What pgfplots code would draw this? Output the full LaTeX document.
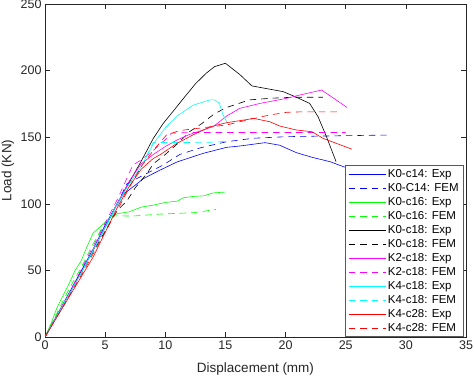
\documentclass[border=0pt]{standalone}
\usepackage{fontspec}
\setmainfont{Liberation Sans}
\usepackage{pgfplots}
\pgfplotsset{compat=1.18}
\definecolor{mb}{rgb}{0,0,1}
\definecolor{mg}{rgb}{0,1,0}
\definecolor{mk}{rgb}{0,0,0}
\definecolor{mm}{rgb}{1,0,1}
\definecolor{mc}{rgb}{0,1,1}
\definecolor{mr}{rgb}{1,0,0}
\begin{document}
\begin{tikzpicture}
\path[use as bounding box] (-45pt,-40pt) rectangle (429pt,337pt);
\begin{axis}[
  at={(0pt,0pt)}, anchor=south west,
  scale only axis, width=421pt, height=333pt,
  xmin=0, xmax=35, ymin=0, ymax=250,
  xtick={0,5,...,35}, ytick={0,50,...,250},
  tick align=inside, major tick length=5pt,
  axis line style={color=black!85, line width=0.5pt},
  tick style={color=black!85, line width=0.5pt},
  /pgf/number format/assume math mode=true,
  ticklabel style={font=\fontsize{12.5}{14}\selectfont, color=black!85},
  xlabel={Displacement (mm)}, ylabel={Load (KN)},
  label style={font=\fontsize{13.5}{15}\selectfont, color=black!85},
  xlabel style={at={(axis description cs:0.5,-0.096)}, anchor=center},
  ylabel style={at={(axis description cs:-0.088,0.5)}, anchor=center},
  legend cell align=left,
  legend style={at={(rel axis cs:0.995,0.0)}, anchor=south east,
    font=\fontsize{11.5}{14}\selectfont, draw=black!65, line width=0.6pt,
    fill=white, row sep=0.45pt, inner xsep=3pt, inner ysep=2pt},
  legend image code/.code={\draw[#1] (0cm,0cm) -- (37pt,0cm);},
  every axis plot/.append style={line width=0.6pt},
  dashes/.style={dash pattern=on 6.5pt off 5pt},
]
% K0-c14 Exp
\addplot[mb] coordinates {(0,0)(2,33)(4,66)(5,84)(6,100)(6.5,107)(7.5,114)(8.2,119)(9.5,125)(11,131.5)(13.2,138)(15.1,142.4)(16.2,143.4)(18.3,145.9)(19.5,144)(20.9,138.4)(22.2,134.9)(23.7,131.6)(24.8,127.9)(25.5,126)};
\addlegendentry{K0-c14: Exp}
% K0-C14 FEM
\addplot[mb,dashes] coordinates {(0,0)(3,48)(6,100)(6.8,115)(8.2,121.6)(9.8,129)(11.2,137)(12.9,142)(15.1,146.6)(17.3,149.2)(20.1,150.4)(24,151)(28.4,151.6)};
\addlegendentry{K0-C14: FEM}
% K0-c16 Exp
\addplot[mg] coordinates {(0,0)(0.5,10)(1,22)(2,40)(2.5,50)(3,57)(3.5,68)(4,78)(4.5,82)(5,86)(5.5,90)(6,92.5)(7,94)(8,97.5)(9,99)(10,101)(11,102)(11.5,104.5)(12.3,105.5)(13.2,106)(14,108.2)(15,108.8)};
\addlegendentry{K0-c16: Exp}
% K0-c16 FEM
\addplot[mg,dashes] coordinates {(0,0)(1,18)(2,36)(3,52)(4,70)(5,86)(5.5,91)(7.3,90.8)(9.6,92.3)(12.3,93.3)(12.9,94)(14.2,95.8)};
\addlegendentry{K0-c16: FEM}
% K0-c18 Exp
\addplot[mk] coordinates {(0,0)(2,32)(4,65)(6,100)(7,116)(8,132)(9,149)(9.8,160)(10.7,170)(11.5,179)(12.5,190)(13.4,198)(14.1,203)(15,205.5)(16.2,197)(17.2,188.5)(19.8,184.2)(20.8,180.4)(22,175.4)(22.7,165.4)(23.4,150.4)(24.2,131.6)};
\addlegendentry{K0-c18: Exp}
% K0-c18 FEM
\addplot[mk,dashes] coordinates {(0,0)(2,32)(4,64)(6,95)(6.8,102)(7.5,112)(8.5,123)(9,130)(10,137)(11,145)(12,154)(13,160)(14,167)(15,172)(17,178)(18.7,179.2)(20.6,180)(23.1,180)};
\addlegendentry{K0-c18: FEM}
% K2-c18 Exp
\addplot[mm] coordinates {(0,0)(3,48)(6,100)(7,117)(8,130)(9,137)(10,143)(11,148)(12,152)(13,155)(14,158)(15.1,165.9)(16.2,171.7)(17.9,175.4)(20.1,179.2)(21.2,181.7)(23,185.4)(25.1,172.4)};
\addlegendentry{K2-c18: Exp}
% K2-c18 FEM
\addplot[mm,dashes] coordinates {(0,0)(2,33)(4,68)(6,103)(7.3,129)(8,133)(9,140)(10.1,149)(10.5,153)(12,153.5)(25,153.5)};
\addlegendentry{K2-c18: FEM}
% K4-c18 Exp
\addplot[mc] coordinates {(0,0)(3,48)(6,100)(7,115)(8,128)(9,145)(10,157)(11,166)(12.3,174)(13.7,178)(14.1,178)(14.5,175.4)(14.8,166.7)(15.1,161.6)};
\addlegendentry{K4-c18: Exp}
% K4-c18 FEM
\addplot[mc,dashes] coordinates {(0,0)(3,48)(6,98)(7,115)(8,128)(9,146)(12,146)(14.3,146.3)(15,147)};
\addlegendentry{K4-c18: FEM}
% K4-c28 Exp
\addplot[mr] coordinates {(0,0)(2,30)(4,60)(6,97)(7,113)(8,126)(9,134)(9.6,137)(10.9,145)(12.3,151.7)(13.7,157.7)(15.1,160.9)(16.9,163.4)(17.3,164.2)(18.7,161.6)(19.5,158.4)(20.9,155.4)(22.2,154.1)(23.1,149.2)(24.8,143.4)(25.5,141)};
\addlegendentry{K4-c28: Exp}
% K4-c28 FEM
\addplot[mr,dashes] coordinates {(0,0)(3,46)(6,95)(7,112)(8,128)(9,140)(10.1,151.7)(11.2,155)(13.7,157.7)(15.1,159.2)(16.8,162.9)(18.7,166.7)(20.1,168.7)(21.2,169)(24.7,169)};
\addlegendentry{K4-c28: FEM}
\end{axis}
\end{tikzpicture}
\end{document}
